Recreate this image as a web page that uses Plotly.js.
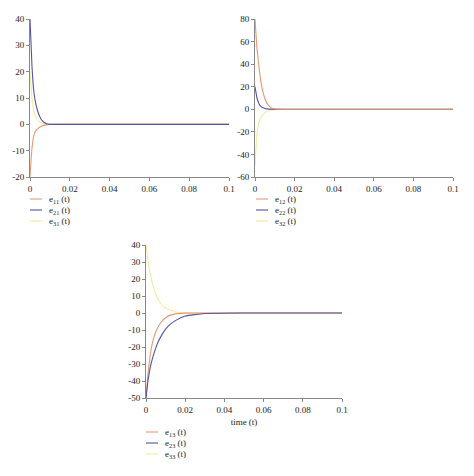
<!DOCTYPE html>
<html><head><meta charset="utf-8">
<script src="https://cdn.plot.ly/plotly-3.0.1.min.js"></script>
<style>html,body{margin:0;padding:0;background:#fff}#c{width:474px;height:476px}</style>
</head><body><div id="c"></div>
<script>
// time samples
const t = [0, 0.001, 0.002, 0.003, 0.004, 0.005, 0.006, 0.008, 0.010, 0.012, 0.015, 0.02, 0.03, 0.05, 0.1];

// panel 1
const e11 = [-20, -9, -4, -2.3, -1.6, -1, -0.6, -0.2, 0, 0, 0, 0, 0, 0, 0];
const e21 = [40, 22, 12, 7.5, 4.7, 2.8, 1.5, 0.3, 0, 0, 0, 0, 0, 0, 0];
const e31 = [20, 10, 5, 2.8, 1.6, 0.9, 0.5, 0.1, 0, 0, 0, 0, 0, 0, 0];
// panel 2
const e12 = [80, 54, 38, 24, 15.5, 9.5, 5.5, 1.5, 0.4, 0.1, 0, 0, 0, 0, 0];
const e22 = [20, 10, 5, 2.5, 1.3, 0.7, 0.4, 0.1, 0, 0, 0, 0, 0, 0, 0];
const e32 = [-50, -22, -12, -7, -4.5, -3, -2, -0.9, -0.3, -0.1, 0, 0, 0, 0, 0];
// panel 3
const e13 = [-50, -36, -26, -19, -14.5, -11, -8.5, -5, -2.8, -1.4, -0.5, -0.1, 0, 0, 0];
const e23 = [-50, -40, -33, -28, -24, -20.5, -17.5, -13, -9.5, -7, -4.5, -1.8, -0.3, 0, 0];
const e33 = [40, 31, 24, 18.5, 14.5, 11, 8.5, 5, 3, 1.7, 0.6, 0.1, 0, 0, 0];

const names1 = ["e<sub>11</sub> (t)", "e<sub>21</sub> (t)", "e<sub>31</sub> (t)"];
const names2 = ["e<sub>12</sub> (t)", "e<sub>22</sub> (t)", "e<sub>32</sub> (t)"];
const names3 = ["e<sub>13</sub> (t)", "e<sub>23</sub> (t)", "e<sub>33</sub> (t)"];

const xTickVals = [0, 0.02, 0.04, 0.06, 0.08, 0.1];
const xTickText = ["0", "0.02", "0.04", "0.06", "0.08", "0.1"];
const y1TickVals = [-20, -10, 0, 10, 20, 30, 40];
const y1TickText = ["-20", "-10", "0", "10", "20", "30", "40"];
const y2TickVals = [-60, -40, -20, 0, 20, 40, 60, 80];
const y2TickText = ["-60", "-40", "-20", "0", "20", "40", "60", "80"];
const y3TickVals = [-50, -40, -30, -20, -10, 0, 10, 20, 30, 40];
const y3TickText = ["-50", "-40", "-30", "-20", "-10", "0", "10", "20", "30", "40"];

const colors = ["#e39a74", "#55539f", "#f2ec9c"];
const W = 474, H = 476;

function tr(y, name, i, xa, ya) {
  return {x: t, y: y, name: name, type: 'scatter', mode: 'lines', line: {shape: 'spline', smoothing: 0.4, color: colors[i], width: 1.1}, xaxis: xa, yaxis: ya, showlegend: false};
}
const data = [
  tr(e31, names1[2], 2, 'x', 'y'), tr(e11, names1[0], 0, 'x', 'y'), tr(e21, names1[1], 1, 'x', 'y'),
  tr(e32, names2[2], 2, 'x2', 'y2'), tr(e22, names2[1], 1, 'x2', 'y2'), tr(e12, names2[0], 0, 'x2', 'y2'),
  tr(e33, names3[2], 2, 'x3', 'y3'), tr(e13, names3[0], 0, 'x3', 'y3'), tr(e23, names3[1], 1, 'x3', 'y3')
];

const font = {family: 'Liberation Serif, serif', size: 9, color: '#222'};
function xax(dom, anchor, title) {
  const a = {domain: dom, anchor: anchor, range: [0, 0.1], tickvals: xTickVals, ticktext: xTickText, showgrid: false, zeroline: false, showline: true, linecolor: '#888', linewidth: 1, ticks: 'outside', ticklen: 3, tickcolor: '#888', tickfont: font};
  if (title) a.title = {text: title, font: font, standoff: 4};
  return a;
}
function yax(dom, anchor, range, tv, tt) {
  return {domain: dom, anchor: anchor, range: range, tickvals: tv, ticktext: tt, showgrid: false, zeroline: false, showline: true, linecolor: '#888', linewidth: 1, ticks: 'outside', ticklen: 3, tickcolor: '#888', tickfont: font};
}
const yTop = [1 - 177 / H, 1 - 19 / H];
const yBot = [1 - 398 / H, 1 - 245 / H];

const shapes = [], annotations = [];
function legend(x0, y0, names, order) {
  order.forEach((ci, k) => {
    const yp = 1 - (y0 + k * 11) / H;
    shapes.push({type: 'line', xref: 'paper', yref: 'paper', x0: x0 / W, x1: (x0 + 12) / W, y0: yp, y1: yp, line: {color: colors[ci], width: 1.1}});
    annotations.push({xref: 'paper', yref: 'paper', x: (x0 + 17) / W, y: yp, xanchor: 'left', yanchor: 'middle', text: names[ci], showarrow: false, font: font});
  });
}
legend(30, 199, names1, [0, 1, 2]);
legend(256, 199, names2, [0, 1, 2]);
legend(146, 432, names3, [0, 1, 2]);

const layout = {
  width: W, height: H, margin: {l: 0, r: 0, t: 0, b: 0},
  paper_bgcolor: '#fff', plot_bgcolor: '#fff', font: font, showlegend: false,
  xaxis: xax([30 / W, 229 / W], 'y'),
  yaxis: yax(yTop, 'x', [-20, 40], y1TickVals, y1TickText),
  xaxis2: xax([255 / W, 453 / W], 'y2'),
  yaxis2: yax(yTop, 'x2', [-60, 80], y2TickVals, y2TickText),
  xaxis3: xax([146 / W, 342 / W], 'y3', 'time (t)'),
  yaxis3: yax(yBot, 'x3', [-50, 40], y3TickVals, y3TickText),
  shapes: shapes, annotations: annotations
};
Plotly.newPlot('c', data, layout, {displayModeBar: false, staticPlot: true});
</script></body></html>
